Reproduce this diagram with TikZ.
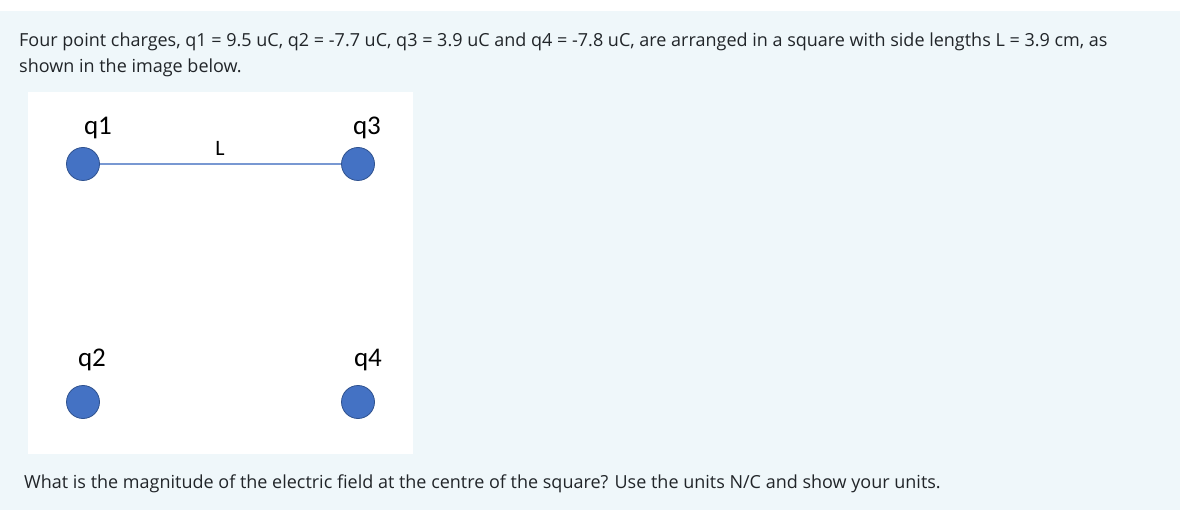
\documentclass[tikz,border=0pt]{standalone}
\usepackage{fontspec}
\setmainfont{Open Sans}
\newfontfamily\calib{Carlito}
\definecolor{pagebg}{RGB}{239,247,250}
\definecolor{txt}{RGB}{33,37,41}
\definecolor{chargefill}{RGB}{68,114,196}
\definecolor{chargeedge}{RGB}{47,82,143}
\definecolor{sideline}{RGB}{120,152,210}
\begin{document}
\begin{tikzpicture}[x=1pt,y=-1pt,
  body/.style={anchor=base west,inner sep=0pt,text=txt,font=\fontsize{18}{22}\selectfont},
  charge/.style={circle,fill=chargefill,draw=chargeedge,line width=0.8pt,minimum width=33pt,minimum height=32pt,inner sep=0pt},
  qlabel/.style={anchor=base,inner sep=0pt,text=black,font=\calib\fontsize{27}{30}\selectfont},
  side/.style={draw=sideline,line width=1.3pt}]
\useasboundingbox (0,0) rectangle (1193,510);
\fill[white] (0,0) rectangle (1193,510);
\fill[pagebg] (0,11) rectangle (1180,510);
\fill[white] (28,92) rectangle (413,454);
\node[body] (t1) at (19,47) {Four point charges, q1 = 9.5 uC, q2 = -7.7 uC, q3 = 3.9 uC and q4 = -7.8 uC, are arranged in a square with side lengths L = 3.9 cm, as};
\node[body] (t2) at (19,73) {shown in the image below.};
\node[body] (t3) at (24,488) {What is the magnitude of the electric field at the centre of the square? Use the units N/C and show your units.};
\node[charge] (q1c) at (83,164) {};
\node[charge] (q3c) at (358,164) {};
\node[charge] (q2c) at (83,402) {};
\node[charge] (q4c) at (358,402) {};
\draw[side] (q1c) -- (q3c);
\node[qlabel] (q1l) at (98,135) {q1};
\node[qlabel] (q3l) at (367,135) {q3};
\node[qlabel] (q2l) at (92,366) {q2};
\node[qlabel] (q4l) at (368,366) {q4};
\node[qlabel,font=\calib\fontsize{22}{26}\selectfont] (Ll) at (220,156) {L};
\end{tikzpicture}
\end{document}
